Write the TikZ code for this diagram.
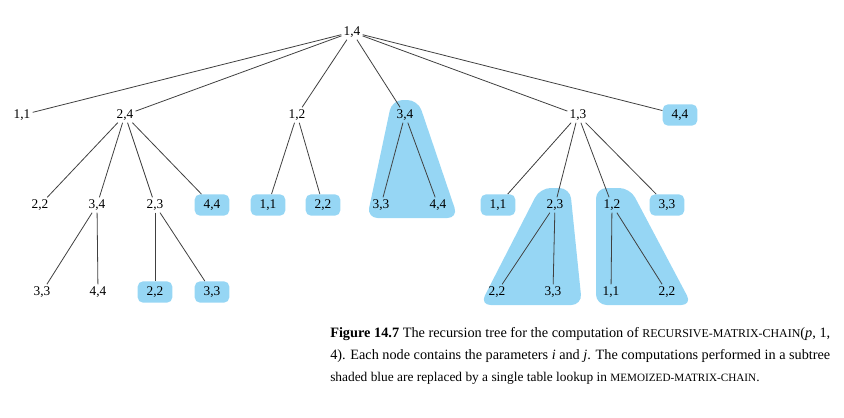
\documentclass[tikz,border=0pt]{standalone}
\usepackage{fontspec}
\usepackage{graphicx}
\setmainfont{Liberation Serif}
\definecolor{sh}{RGB}{150,214,244}
\newcommand{\mycap}[1]{{\fontsize{9.6}{12}\selectfont #1}}
\begin{document}
\begin{tikzpicture}[x=0.75pt,y=-0.75pt,
  n/.style={inner sep=1.5pt,font=\fontsize{10}{12}\selectfont},
  s/.style={n,fill=sh,rounded corners=4pt,minimum width=26pt,minimum height=16pt},
  e/.style={draw=black!75,line width=0.6pt},
  cl/.style={anchor=west,inner sep=0pt,font=\fontsize{11.5}{14}\selectfont}]
\useasboundingbox (0,0) rectangle (844,418);
% shaded subtrees
\fill[sh,rounded corners=8pt] (392,100)--(418,100)--(458,218)--(367,218)--cycle;
\fill[sh,rounded corners=8pt] (540,188)--(570,188)--(582,305)--(480,305)--cycle;
\fill[sh,rounded corners=8pt] (596,188)--(630,188)--(692,305)--(596,305)--cycle;
% nodes
\node[n] (r) at (352,32) {1,4};
\node[n] (a) at (22,115) {1,1};
\node[n] (b) at (125,115) {2,4};
\node[n] (c) at (297,115) {1,2};
\node[n] (d) at (405,115) {3,4};
\node[n] (f) at (578,115) {1,3};
\node[s] (g) at (680,115) {4,4};
\node[n] (b1) at (40,205) {2,2};
\node[n] (b2) at (97,205) {3,4};
\node[n] (b3) at (155,205) {2,3};
\node[s] (b4) at (212,205) {4,4};
\node[s] (c1) at (268,205) {1,1};
\node[s] (c2) at (323,205) {2,2};
\node[n] (d1) at (381,205) {3,3};
\node[n] (d2) at (438,205) {4,4};
\node[s] (f1) at (498,205) {1,1};
\node[n] (f2) at (555,205) {2,3};
\node[n] (f3) at (612,205) {1,2};
\node[s] (f4) at (667,205) {3,3};
\node[n] (b21) at (42,292) {3,3};
\node[n] (b22) at (98,292) {4,4};
\node[s] (b31) at (155,292) {2,2};
\node[s] (b32) at (212,292) {3,3};
\node[n] (f21) at (497,292) {2,2};
\node[n] (f22) at (553,292) {3,3};
\node[n] (f31) at (611,292) {1,1};
\node[n] (f32) at (667,292) {2,2};
% edges
\foreach \x in {a,b,c,d,f,g} \draw[e] (r) -- (\x);
\foreach \x in {b1,b2,b3,b4} \draw[e] (b) -- (\x);
\foreach \x in {c1,c2} \draw[e] (c) -- (\x);
\foreach \x in {d1,d2} \draw[e] (d) -- (\x);
\foreach \x in {f1,f2,f3,f4} \draw[e] (f) -- (\x);
\foreach \x in {b21,b22} \draw[e] (b2) -- (\x);
\foreach \x in {b31,b32} \draw[e] (b3) -- (\x);
\foreach \x in {f21,f22} \draw[e] (f2) -- (\x);
\foreach \x in {f31,f32} \draw[e] (f3) -- (\x);
% caption
\node[cl] (cap1) at (330,334) {\resizebox{375pt}{!}{\textbf{Figure 14.7} The recursion tree for the computation of \mycap{RECURSIVE-MATRIX-CHAIN}(\textit{p}, 1,}};
\node[cl] (cap2) at (330,356) {\resizebox{375pt}{!}{4). Each node contains the parameters \textit{i} and \textit{j}. The computations performed in a subtree}};
\node[cl] (cap3) at (330,378) {\resizebox{322pt}{!}{shaded blue are replaced by a single table lookup in \mycap{MEMOIZED-MATRIX-CHAIN}.}};
\end{tikzpicture}
\end{document}
